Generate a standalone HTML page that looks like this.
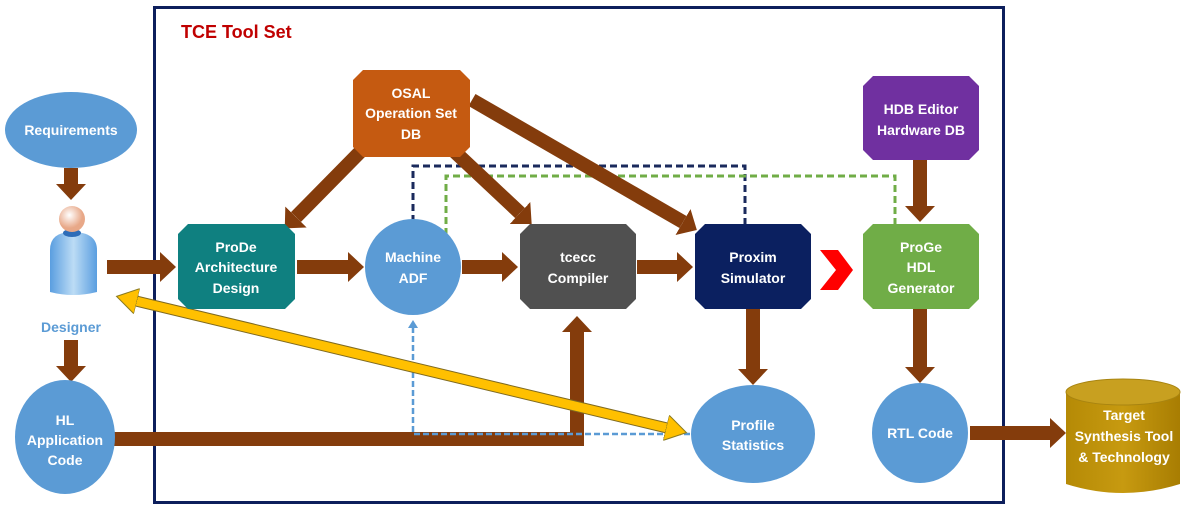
<!DOCTYPE html>
<html><head><meta charset="utf-8"><style>
html,body{margin:0;padding:0;background:#fff;}
svg{display:block;font-family:"Liberation Sans",sans-serif;font-weight:bold;}
</style></head><body>
<svg width="1200" height="513" viewBox="0 0 1200 513" xmlns="http://www.w3.org/2000/svg">
<defs>
<marker id="a" markerUnits="userSpaceOnUse" markerWidth="18" markerHeight="30" refX="0" refY="15" orient="auto"><path d="M0,0 L16,15 L0,30 z" fill="#843c0c"/></marker>
<marker id="y" markerUnits="userSpaceOnUse" markerWidth="22" markerHeight="26" refX="1" refY="13" orient="auto-start-reverse"><path d="M0,0 L21,13 L0,26 z" fill="#ffc000" stroke="#8a7a20" stroke-width="1"/></marker>
<marker id="lb" markerUnits="userSpaceOnUse" markerWidth="10" markerHeight="10" refX="0" refY="5" orient="auto"><path d="M0,0 L8,5 L0,10 z" fill="#5b9bd5"/></marker>
<linearGradient id="cyl" x1="0" x2="1"><stop offset="0" stop-color="#b58a06"/><stop offset="0.5" stop-color="#c79a10"/><stop offset="1" stop-color="#a87d02"/></linearGradient>
<radialGradient id="head" cx="0.4" cy="0.35"><stop offset="0" stop-color="#fff"/><stop offset="1" stop-color="#e8a888"/></radialGradient>
<linearGradient id="body" x1="0" x2="1"><stop offset="0" stop-color="#5a9ee0"/><stop offset="0.5" stop-color="#bcdcf5"/><stop offset="1" stop-color="#5a9ee0"/></linearGradient>
</defs>

<!-- frame -->
<rect x="154.5" y="7.5" width="849" height="495" fill="none" stroke="#0d1f5c" stroke-width="3"/>
<text x="181" y="38" fill="#c00000" font-size="18">TCE Tool Set</text>

<!-- dashed lines -->
<polyline points="413,222 413,166 745,166 745,224" fill="none" stroke="#1a2a5c" stroke-width="3" stroke-dasharray="7,4"/>
<polyline points="446,235 446,176 895,176 895,224" fill="none" stroke="#70ad47" stroke-width="3" stroke-dasharray="7,4"/>

<!-- brown arrows -->
<g stroke="#843c0c" stroke-width="14" fill="none">
<line x1="71" y1="168" x2="71" y2="184" marker-end="url(#a)"/>
<line x1="71" y1="340" x2="71" y2="366" marker-end="url(#a)"/>
<line x1="107" y1="267" x2="160" y2="267" marker-end="url(#a)"/>
<line x1="297" y1="267" x2="348" y2="267" marker-end="url(#a)"/>
<line x1="462" y1="267" x2="502" y2="267" marker-end="url(#a)"/>
<line x1="637" y1="267" x2="677" y2="267" marker-end="url(#a)"/>
<line x1="362" y1="150" x2="296" y2="217" marker-end="url(#a)"/>
<line x1="455" y1="152" x2="520" y2="213" marker-end="url(#a)"/>
<line x1="472" y1="100" x2="683" y2="222" marker-end="url(#a)"/>
<line x1="920" y1="160" x2="920" y2="206" marker-end="url(#a)"/>
<line x1="753" y1="309" x2="753" y2="369" marker-end="url(#a)"/>
<line x1="920" y1="309" x2="920" y2="367" marker-end="url(#a)"/>
<line x1="970" y1="433" x2="1050" y2="433" marker-end="url(#a)"/>
<polyline points="112,439 577,439 577,332" marker-end="url(#a)"/>
</g>

<!-- light blue dashed -->
<polyline points="690,434 413,434 413,328" fill="none" stroke="#5b9bd5" stroke-width="2.5" stroke-dasharray="6,3" marker-end="url(#lb)"/>

<!-- yellow double arrow -->
<line x1="136" y1="301" x2="667" y2="428" stroke="#7f6a20" stroke-width="11"/>
<line x1="136" y1="301" x2="667" y2="428" stroke="#ffc000" stroke-width="9" marker-start="url(#y)" marker-end="url(#y)"/>

<!-- Requirements -->
<ellipse cx="71" cy="130" rx="66" ry="38" fill="#5b9bd5"/>
<text x="71" y="135" fill="#fff" font-size="14" text-anchor="middle">Requirements</text>

<!-- person -->
<path d="M50,292 L50,250 Q50,232 72,232 Q97,232 97,250 L97,292 Q73,298 50,292 z" fill="url(#body)"/>
<ellipse cx="72" cy="233" rx="9" ry="4" fill="#2e6db8"/>
<circle cx="72" cy="219" r="13" fill="url(#head)"/>
<text x="71" y="332" fill="#5b9bd5" font-size="14" text-anchor="middle">Designer</text>

<!-- HL App -->
<ellipse cx="65" cy="437" rx="50" ry="57" fill="#5b9bd5"/>
<text fill="#fff" font-size="14" text-anchor="middle"><tspan x="65" y="425">HL</tspan><tspan x="65" y="445">Application</tspan><tspan x="65" y="465">Code</tspan></text>

<!-- ProDe -->
<polygon points="188,224 285,224 295,234 295,299 285,309 188,309 178,299 178,234" fill="#0f8080"/>
<text fill="#fff" font-size="14" text-anchor="middle"><tspan x="236" y="252">ProDe</tspan><tspan x="236" y="272">Architecture</tspan><tspan x="236" y="293">Design</tspan></text>

<!-- OSAL -->
<polygon points="363,70 460,70 470,80 470,147 460,157 363,157 353,147 353,80" fill="#c55a11"/>
<text fill="#fff" font-size="14" text-anchor="middle"><tspan x="411" y="98">OSAL</tspan><tspan x="411" y="118">Operation Set</tspan><tspan x="411" y="139">DB</tspan></text>

<!-- Machine ADF -->
<circle cx="413" cy="267" r="48" fill="#5b9bd5"/>
<text fill="#fff" font-size="14" text-anchor="middle"><tspan x="413" y="262">Machine</tspan><tspan x="413" y="283">ADF</tspan></text>

<!-- tcecc -->
<polygon points="530,224 626,224 636,234 636,299 626,309 530,309 520,299 520,234" fill="#505050"/>
<text fill="#fff" font-size="14" text-anchor="middle"><tspan x="578" y="262">tcecc</tspan><tspan x="578" y="283">Compiler</tspan></text>

<!-- Proxim -->
<polygon points="705,224 801,224 811,234 811,299 801,309 705,309 695,299 695,234" fill="#0b2060"/>
<text fill="#fff" font-size="14" text-anchor="middle"><tspan x="753" y="262">Proxim</tspan><tspan x="753" y="283">Simulator</tspan></text>

<!-- red chevron -->
<polygon points="820,250 838,250 853,270 838,290 820,290 836,270" fill="#ff0000"/>

<!-- HDB -->
<polygon points="873,76 969,76 979,86 979,150 969,160 873,160 863,150 863,86" fill="#7030a0"/>
<text fill="#fff" font-size="14" text-anchor="middle"><tspan x="921" y="114">HDB Editor</tspan><tspan x="921" y="135">Hardware DB</tspan></text>

<!-- ProGe -->
<polygon points="873,224 969,224 979,234 979,299 969,309 873,309 863,299 863,234" fill="#70ad47"/>
<text fill="#fff" font-size="14" text-anchor="middle"><tspan x="921" y="252">ProGe</tspan><tspan x="921" y="272">HDL</tspan><tspan x="921" y="293">Generator</tspan></text>

<!-- Profile -->
<ellipse cx="753" cy="434" rx="62" ry="49" fill="#5b9bd5"/>
<text fill="#fff" font-size="14" text-anchor="middle"><tspan x="753" y="430">Profile</tspan><tspan x="753" y="450">Statistics</tspan></text>

<!-- RTL -->
<ellipse cx="920" cy="433" rx="48" ry="50" fill="#5b9bd5"/>
<text x="920" y="438" fill="#fff" font-size="14" text-anchor="middle">RTL Code</text>

<!-- cylinder -->
<path d="M1066,392 L1066,484 Q1123,502 1180,484 L1180,392 z" fill="url(#cyl)"/>
<ellipse cx="1123" cy="392" rx="57" ry="13" fill="#c8a020" stroke="#a88410" stroke-width="1"/>
<text fill="#fff" font-size="14" text-anchor="middle"><tspan x="1124" y="420">Target</tspan><tspan x="1124" y="441">Synthesis Tool</tspan><tspan x="1124" y="462">&amp; Technology</tspan></text>
</svg>
</body></html>
